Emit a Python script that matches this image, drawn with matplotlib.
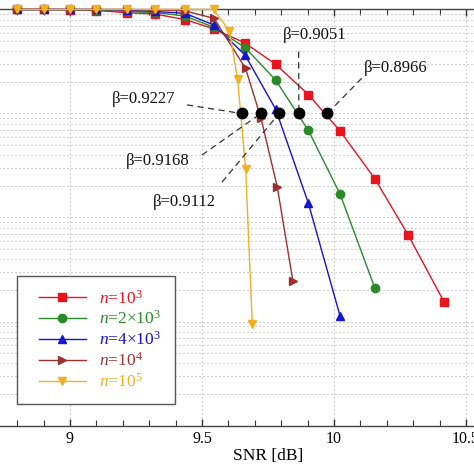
import matplotlib
matplotlib.use('Agg')
from matplotlib import pyplot as plt
from matplotlib import ticker as mtick
from matplotlib.legend_handler import HandlerLine2D

plt.rcParams['font.family'] = ['Liberation Serif', 'DejaVu Serif']
plt.rcParams['mathtext.fontset'] = 'custom'
plt.rcParams['mathtext.rm'] = 'Liberation Serif'
plt.rcParams['mathtext.it'] = 'Liberation Serif:italic'

# SNR [dB] / BER
snr_1e3 = [8.80, 8.90, 9.00, 9.10, 9.215, 9.322, 9.435, 9.545, 9.663, 9.779, 9.903, 10.023, 10.155, 10.281, 10.417]
ber_1e3 = [1.0, 1.0, 0.995, 0.978, 0.932, 0.905, 0.801, 0.652, 0.476, 0.297, 0.152, 0.0679, 0.0235, 0.00679, 0.00154]

snr_2e3 = [8.80, 8.90, 9.00, 9.10, 9.215, 9.322, 9.435, 9.545, 9.663, 9.779, 9.903, 10.023, 10.155]
ber_2e3 = [1.0, 1.0, 1.0, 0.99, 0.957, 0.936, 0.866, 0.674, 0.431, 0.210, 0.0687, 0.0168, 0.00209]

snr_4e3 = [8.80, 8.90, 9.00, 9.10, 9.215, 9.322, 9.435, 9.545, 9.663, 9.779, 9.903, 10.023]
ber_4e3 = [1.0, 1.0, 1.0, 1.0, 0.985, 0.957, 0.919, 0.710, 0.365, 0.110, 0.0137, 0.00113]

snr_1e4 = [8.80, 8.90, 9.00, 9.10, 9.215, 9.322, 9.435, 9.545, 9.665, 9.7235, 9.785, 9.844]
ber_1e4 = [1.0, 1.0, 1.0, 1.0, 1.0, 0.99, 0.97, 0.823, 0.272, 0.0899, 0.0198, 0.00247]

snr_1e5 = [8.80, 8.90, 9.00, 9.10, 9.215, 9.322, 9.435, 9.544, 9.604, 9.635, 9.6655, 9.6905]
ber_1e5 = [1.0, 1.0, 1.0, 1.0, 1.0, 1.0, 1.0, 1.0, 0.621, 0.213, 0.029, 0.000946]

rotulos = [r'$n$=10$^3$', r'$n$=2$\times$10$^3$', r'$n$=4$\times$10$^3$', r'$n$=10$^4$', r'$n$=10$^5$']
cores = ['#e8141e', '#2a8a2a', '#1414d2', '#a0302c', '#f0b020']
marcadores = ['s', 'o', '^', '>', 'v']

# pontos beta (BER = 1e-1)
beta_snr = [9.650, 9.723, 9.792, 9.867, 9.975]
beta_ber = [0.1, 0.1, 0.1, 0.1, 0.1]
beta_txt = [r'β=0.9227', r'β=0.9168', r'β=0.9112', r'β=0.9051', r'β=0.8966']
# posicao do texto e inicio da linha tracejada
beta_txt_xy = [(9.280, 0.138), (9.331, 0.0349), (9.432, 0.0142), (9.928, 0.569), (10.235, 0.274)]
beta_lin_xy = [(9.443, 0.121), (9.500, 0.0399), (9.576, 0.0219), (9.866, 0.393), (10.105, 0.218)]


class HandlerDeslocado(HandlerLine2D):
    """handle da legenda com recuo a esquerda"""
    def get_xdata(self, legend, xdescent, ydescent, width, height, fontsize):
        recuo = 0.45 * fontsize
        x0 = -xdescent + recuo
        x1 = -xdescent + width
        return [x0, x1], [(x0 + x1) / 2]


fig = plt.figure(figsize=(4.74, 4.74), dpi=100)
ax = fig.add_axes([-62/474, 48.5/474, 660/474, 416/474])

series = [(snr_1e3, ber_1e3), (snr_2e3, ber_2e3), (snr_4e3, ber_4e3), (snr_1e4, ber_1e4), (snr_1e5, ber_1e5)]
for (x, y), c, m, lab in zip(series, cores, marcadores, rotulos):
    ax.plot(x, y, color=c, marker=m, ms=6, lw=1.0, label=lab, clip_on=False, zorder=3)

# linhas tracejadas e textos beta
for (tx, ty), (lx, ly), bx, by, t in zip(beta_txt_xy, beta_lin_xy, beta_snr, beta_ber, beta_txt):
    ax.plot([lx, bx], [ly, by], color='#333333', lw=0.9, dashes=(5, 3.5), zorder=4)
    ax.text(tx, ty, t, fontsize=12, ha='center', va='center', color='#111111', zorder=6)

ax.plot(beta_snr, beta_ber, 'o', color='black', ms=7.5, zorder=5, clip_on=False)

ax.set_yscale('log')
ax.set_ylim(1e-4, 1)
ax.set_xlim(8.5, 11.0)

ax.xaxis.set_major_locator(mtick.MultipleLocator(0.5))
ax.xaxis.set_minor_locator(mtick.MultipleLocator(0.1))
ax.xaxis.set_major_formatter(mtick.FormatStrFormatter('%g'))
ax.yaxis.set_minor_locator(mtick.LogLocator(base=10, subs=range(2, 10)))

ax.grid(True, 'major', 'x', color='#aaaaaa', lw=0.8, dashes=(1, 2.6))
ax.grid(True, 'both', 'y', color='#aaaaaa', lw=0.8, dashes=(1, 2.6))
ax.set_axisbelow(True)

ax.tick_params(which='both', direction='in', top=True, right=True, colors='#333333', labelcolor='black')
ax.tick_params(which='major', length=5, width=1, labelsize=11.5, pad=4)
ax.tick_params(which='minor', length=4, width=0.8)

for s in ax.spines.values():
    s.set_color('#444444')
    s.set_linewidth(1.0)

ax.set_xlabel('SNR [dB]', fontsize=12.5, labelpad=1)

leg = ax.legend(loc='lower left', bbox_to_anchor=(0.120, 0.051), borderaxespad=0,
                fontsize=12.5, handlelength=3.2, handletextpad=0.75, labelspacing=0.17,
                borderpad=0.78, fancybox=False, framealpha=1, edgecolor='#555555',
                handler_map={plt.Line2D: HandlerDeslocado()})
leg.get_frame().set_linewidth(1.0)
for t, c in zip(leg.get_texts(), cores):
    t.set_color(c)

fig.savefig('out.png', dpi=100)
